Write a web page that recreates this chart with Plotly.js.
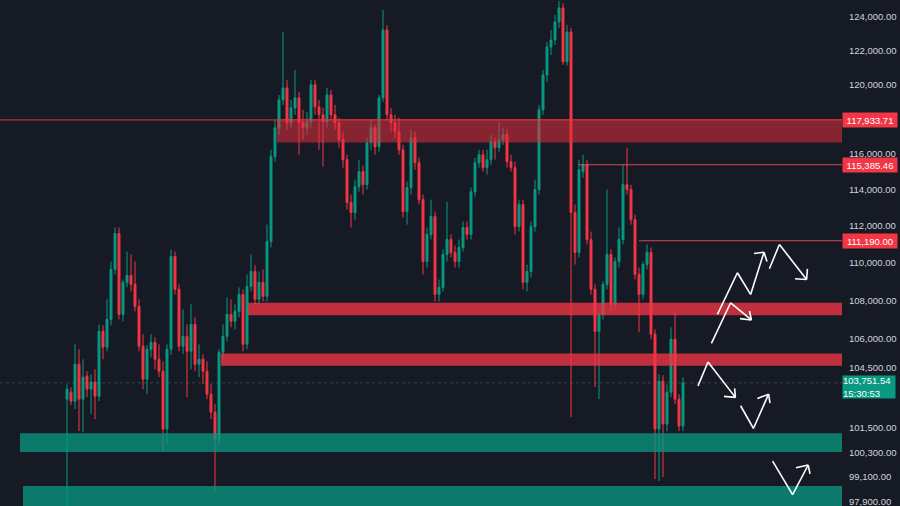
<!DOCTYPE html>
<html>
<head>
<meta charset="utf-8">
<script src="https://cdn.plot.ly/plotly-3.0.1.min.js"></script>
<style>
html,body{margin:0;padding:0;background:#161a25;}
#chart{width:900px;height:506px;}
</style>
</head>
<body>
<div id="chart"></div>
<script>
// ---------- DATA ----------
const opens = [102930,103280,102830,104700,102930,104090,103430,103790,103080,106390,
105570,107010,109650,111580,107270,108960,109330,108850,107690,105620,
103940,105460,105820,104950,104340,101440,105460,110340,108590,105620,
106130,105360,106750,104700,104950,104340,103180,102280,100950,105310,
106130,107270,106910,107430,108320,105720,108740,109540,108060,108960,
108220,111150,115840,117480,119090,119790,117770,118630,119210,117770,
117480,117830,119970,118690,118230,117830,119380,118230,117770,116800,
115670,113280,112730,114160,115000,114270,116630,117480,116400,119210,
123220,118230,117770,117260,116230,112780,114110,116910,115500,113440,
110070,111530,112510,108320,108690,110450,111260,110560,110070,110830,
111910,111530,113880,115500,115950,115220,115670,116690,116350,116800,
117080,115560,115220,111960,113170,108960,109540,111960,114000,118520,
120550,122200,122620,123700,124550,121320,123100,112730,110560,115000,
115390,111260,108590,106390,107270,108850,110450,107800,110070,111260,
114270,114000,112340,109380,108320,109910,110560,106240,101440,103840,
101690,103280,105980,102930,101590];
const highs = [103680,103530,105720,105460,104950,104340,104190,104440,106750,106700,
108060,110070,111910,111910,109110,110610,110450,110070,108060,106240,
105670,106240,106080,105720,104850,105720,110720,110610,108850,107530,
106750,107800,107120,105720,105210,104850,103680,102680,105460,106750,
108160,108060,107800,108690,108590,109380,110450,109860,109540,109650,
112070,116230,117940,119380,123100,120260,119090,120840,119560,118520,
118400,120260,120260,119090,118630,119790,119670,118800,118060,117260,
115950,113720,114550,115670,115330,116910,117940,117660,119380,124420,
123520,118630,118230,118060,116520,114440,117370,117260,115780,113720,
111910,113440,112780,109110,110720,113330,111530,110930,111260,112240,
112240,114110,115780,116230,116230,116230,117080,116910,117830,117480,
117370,115950,115560,113440,113440,109910,112240,114550,118800,120840,
122500,123220,124120,124970,124850,123520,123340,113170,115670,115950,
115670,111690,108850,107430,109010,114000,110720,110290,111910,115390,
116350,114270,112620,109750,110070,110990,110830,106490,104190,104140,
103680,106600,107430,103180,104040];
const lows = [97330,102630,102430,101340,101290,103030,102180,101930,102830,104950,
105360,106700,109380,107010,106910,108690,108480,107430,105360,103430,
103180,105050,104440,104040,100360,100700,105160,108320,105360,105210,
103030,104440,104340,104040,103680,102930,101930,98380,100700,104950,
105870,106600,106490,107120,105360,105460,108480,107800,107740,107950,
107950,110830,115560,117080,118800,117370,117480,118230,115950,116800,
117080,117480,118230,116230,115280,117480,117940,117370,116350,115220,
112890,111910,112340,113880,113720,114000,116230,115950,116120,118980,
117940,117260,116910,115950,112450,112070,113720,115110,113170,109380,
109750,111260,107950,107950,108480,110070,110290,109750,109750,110610,
111260,111260,113610,115220,115000,114830,115390,115670,116120,116520,
115220,115000,111530,111690,108590,108480,109220,111690,113720,118230,
120140,121730,122320,123340,121140,121080,102030,109910,110290,114660,
110990,108320,103530,102930,107010,108590,107430,107530,109750,110990,
113720,112070,109110,106340,108060,109650,105980,99000,98910,99100,
101340,103030,102680,101340,101340];
const closes = [103430,102830,104700,102930,104040,103430,103790,103080,106390,105570,
107010,109650,111580,107270,108960,109330,108850,107690,105620,103940,
105460,105820,104950,104340,101440,105460,110340,108590,105620,106130,
105360,106750,104700,104950,104340,103180,102280,100950,105310,106130,
107270,106910,107430,108320,105720,108740,109540,108060,108960,108220,
111150,115840,117480,119090,119790,117770,118630,119210,117770,117480,
117830,119970,118690,118230,117830,119380,118230,117770,116800,115670,
113280,112730,114160,115000,114270,116630,117480,116400,119210,123220,
118230,117770,117260,116230,112780,114110,116910,115500,113440,110070,
111530,112510,108320,108690,110450,111260,110560,110070,110830,111910,
111530,113880,115500,115950,115220,115670,116690,116350,116800,117080,
115560,115220,111960,113170,108960,109540,111960,114000,118520,120550,
122200,122620,123700,124550,121320,123100,112730,110560,115110,115390,
111260,108590,106390,107270,108850,110450,107800,110070,111260,114270,
114000,112340,109380,108320,109910,110560,106240,101440,103840,101690,
103280,105980,102930,101590,103751.54];

// y-axis tick values and their labels
const tickValues = [124000,122000,120000,116000,114000,112000,110000,108000,106000,104500,101500,100300,99100,97900];
const tickLabels = ["124,000.00","122,000.00","120,000.00","116,000.00","114,000.00","112,000.00","110,000.00","108,000.00","106,000.00","104,500.00","101,500.00","100,300.00","99,100.00","97,900.00"];

// horizontal levels: price, start index
const levelPrices = [117933.71, 115385.46, 111190.00];
const levelLabels = ["117,933.71", "115,385.46", "111,190.00"];
const levelStarts = [-16.75, 127.75, 143];

// zones: low, high, start index
const zoneLows   = [116650, 107220, 104615, 100310, 97500];
const zoneHighs  = [117980, 107880, 105240, 101240, 98670];
const zoneStarts = [52.5, 45.25, 38.5, -11.75, -11];
const zoneKinds  = ["resist-dark","resist","resist","support","support"];

const lastPrice = 103751.54;
const lastPriceLabel = "103,751.54";
const countdownLabel = "15:30:53";

// hand-drawn arrows: polyline + arrowhead [arm1, tip, arm2] (index, price)
const arrowLinesX = [[162.6,167.6,170.9,174.25],[175.6,178.1,184.9],[161.1,165.9,171.1],[157.75,160.25,167.1],[168.4,171.6,175.4],[176.4,181.4,185.3]];
const arrowLinesY = [[107270,109470,108320,110570],[109680,110990,109110],[105770,107880,106980],[103600,104810,103020],[102600,101470,103180],[99870,98250,99680]];
const arrowHeadsX = [[171.75,174.25,175],[182,184.9,185.1],[168.25,171.1,170.6],[164.25,167.1,166.9],[172.6,175.4,175.75],[182.25,185.3,185.75]];
const arrowHeadsY = [[110500,110570,110070],[109150,109110,109680],[107050,106980,107450],[103070,103020,103470],[102960,103180,102730],[99550,99680,99250]];

// ---------- CHART ----------
const idx = opens.map((_, i) => i);
const XMIN = -16.75, XMAX = 193.75;
const L = v => Math.log10(v);

const traces = [{
  type: 'candlestick',
  x: idx, open: opens, high: highs, low: lows, close: closes,
  increasing: {line: {color: '#089981', width: 1}, fillcolor: '#089981'},
  decreasing: {line: {color: '#f23645', width: 1}, fillcolor: '#f23645'},
  whiskerwidth: 0,
  hoverinfo: 'skip',
  showlegend: false
}];

const zoneFill = {
  'resist-dark': 'rgba(230,45,60,0.55)',
  'resist': 'rgba(242,54,69,0.78)',
  'support': 'rgba(8,153,129,0.76)'
};

const shapes = [];
// current price dotted line
shapes.push({type:'line', xref:'x', yref:'y', x0:XMIN, x1:XMAX, y0:lastPrice, y1:lastPrice,
  line:{color:'rgba(110,140,140,0.35)', width:1, dash:'dot'}, layer:'below'});
for (let k = 0; k < zoneLows.length; k++) {
  shapes.push({type:'rect', xref:'x', yref:'y', x0: zoneStarts[k], x1: XMAX,
    y0: zoneLows[k], y1: zoneHighs[k], fillcolor: zoneFill[zoneKinds[k]],
    line:{width:0}, layer:'above'});
}
for (let k = 0; k < levelPrices.length; k++) {
  shapes.push({type:'line', xref:'x', yref:'y', x0: levelStarts[k], x1: XMAX,
    y0: levelPrices[k], y1: levelPrices[k],
    line:{color: k === 0 ? 'rgba(242,54,69,0.9)' : 'rgba(242,80,95,0.85)', width:1}, layer:'above'});
}
// arrows drawn on top of the zones
function addPolyline(xs, ys) {
  for (let j = 0; j + 1 < xs.length; j++) {
    shapes.push({type:'line', xref:'x', yref:'y', x0: xs[j], x1: xs[j+1], y0: ys[j], y1: ys[j+1],
      line:{color:'#ffffff', width:1.6}, layer:'above'});
  }
}
for (let k = 0; k < arrowLinesX.length; k++) {
  addPolyline(arrowLinesX[k], arrowLinesY[k]);
  addPolyline(arrowHeadsX[k], arrowHeadsY[k]);
}

const annotations = [];
for (let k = 0; k < levelPrices.length; k++) {
  annotations.push({xref:'paper', yref:'y', x:1, y:L(levelPrices[k]), xanchor:'left', yanchor:'middle',
    text: levelLabels[k], showarrow:false, bgcolor:'#f23645', width:52, height:12, borderpad:1,
    align:'center', font:{family:'Liberation Sans, Arial, sans-serif', size:9.5, color:'#ffffff'}});
}
annotations.push({xref:'paper', yref:'y', x:1, y:L(lastPrice), xanchor:'left', yanchor:'middle', yshift:-4,
  text: lastPriceLabel + '<br>' + countdownLabel, showarrow:false, bgcolor:'#089981',
  width:52, height:22, borderpad:0, align:'left',
  font:{family:'Liberation Sans, Arial, sans-serif', size:9.5, color:'#ffffff'}});

const layout = {
  width: 900, height: 506,
  margin: {l:0, r:58, t:0, b:0, pad:0},
  paper_bgcolor: '#161a25', plot_bgcolor: '#161a25',
  showlegend: false,
  xaxis: {range:[XMIN, XMAX], showgrid:false, zeroline:false, showticklabels:false,
    showline:false, rangeslider:{visible:false}, fixedrange:true},
  yaxis: {type:'log', side:'right', range:[4.98993, 5.09702], showgrid:false, zeroline:false,
    showline:false, tickmode:'array', tickvals: tickValues, ticktext: tickLabels,
    ticks:'', ticklabelstandoff: 6, ticklabeloverflow:'allow',
    tickfont:{family:'Liberation Sans, Arial, sans-serif', size:9.5, color:'#d1d4dc'}, fixedrange:true},
  shapes: shapes,
  annotations: annotations
};

Plotly.newPlot('chart', traces, layout, {displayModeBar:false, staticPlot:true});
</script>
</body>
</html>
